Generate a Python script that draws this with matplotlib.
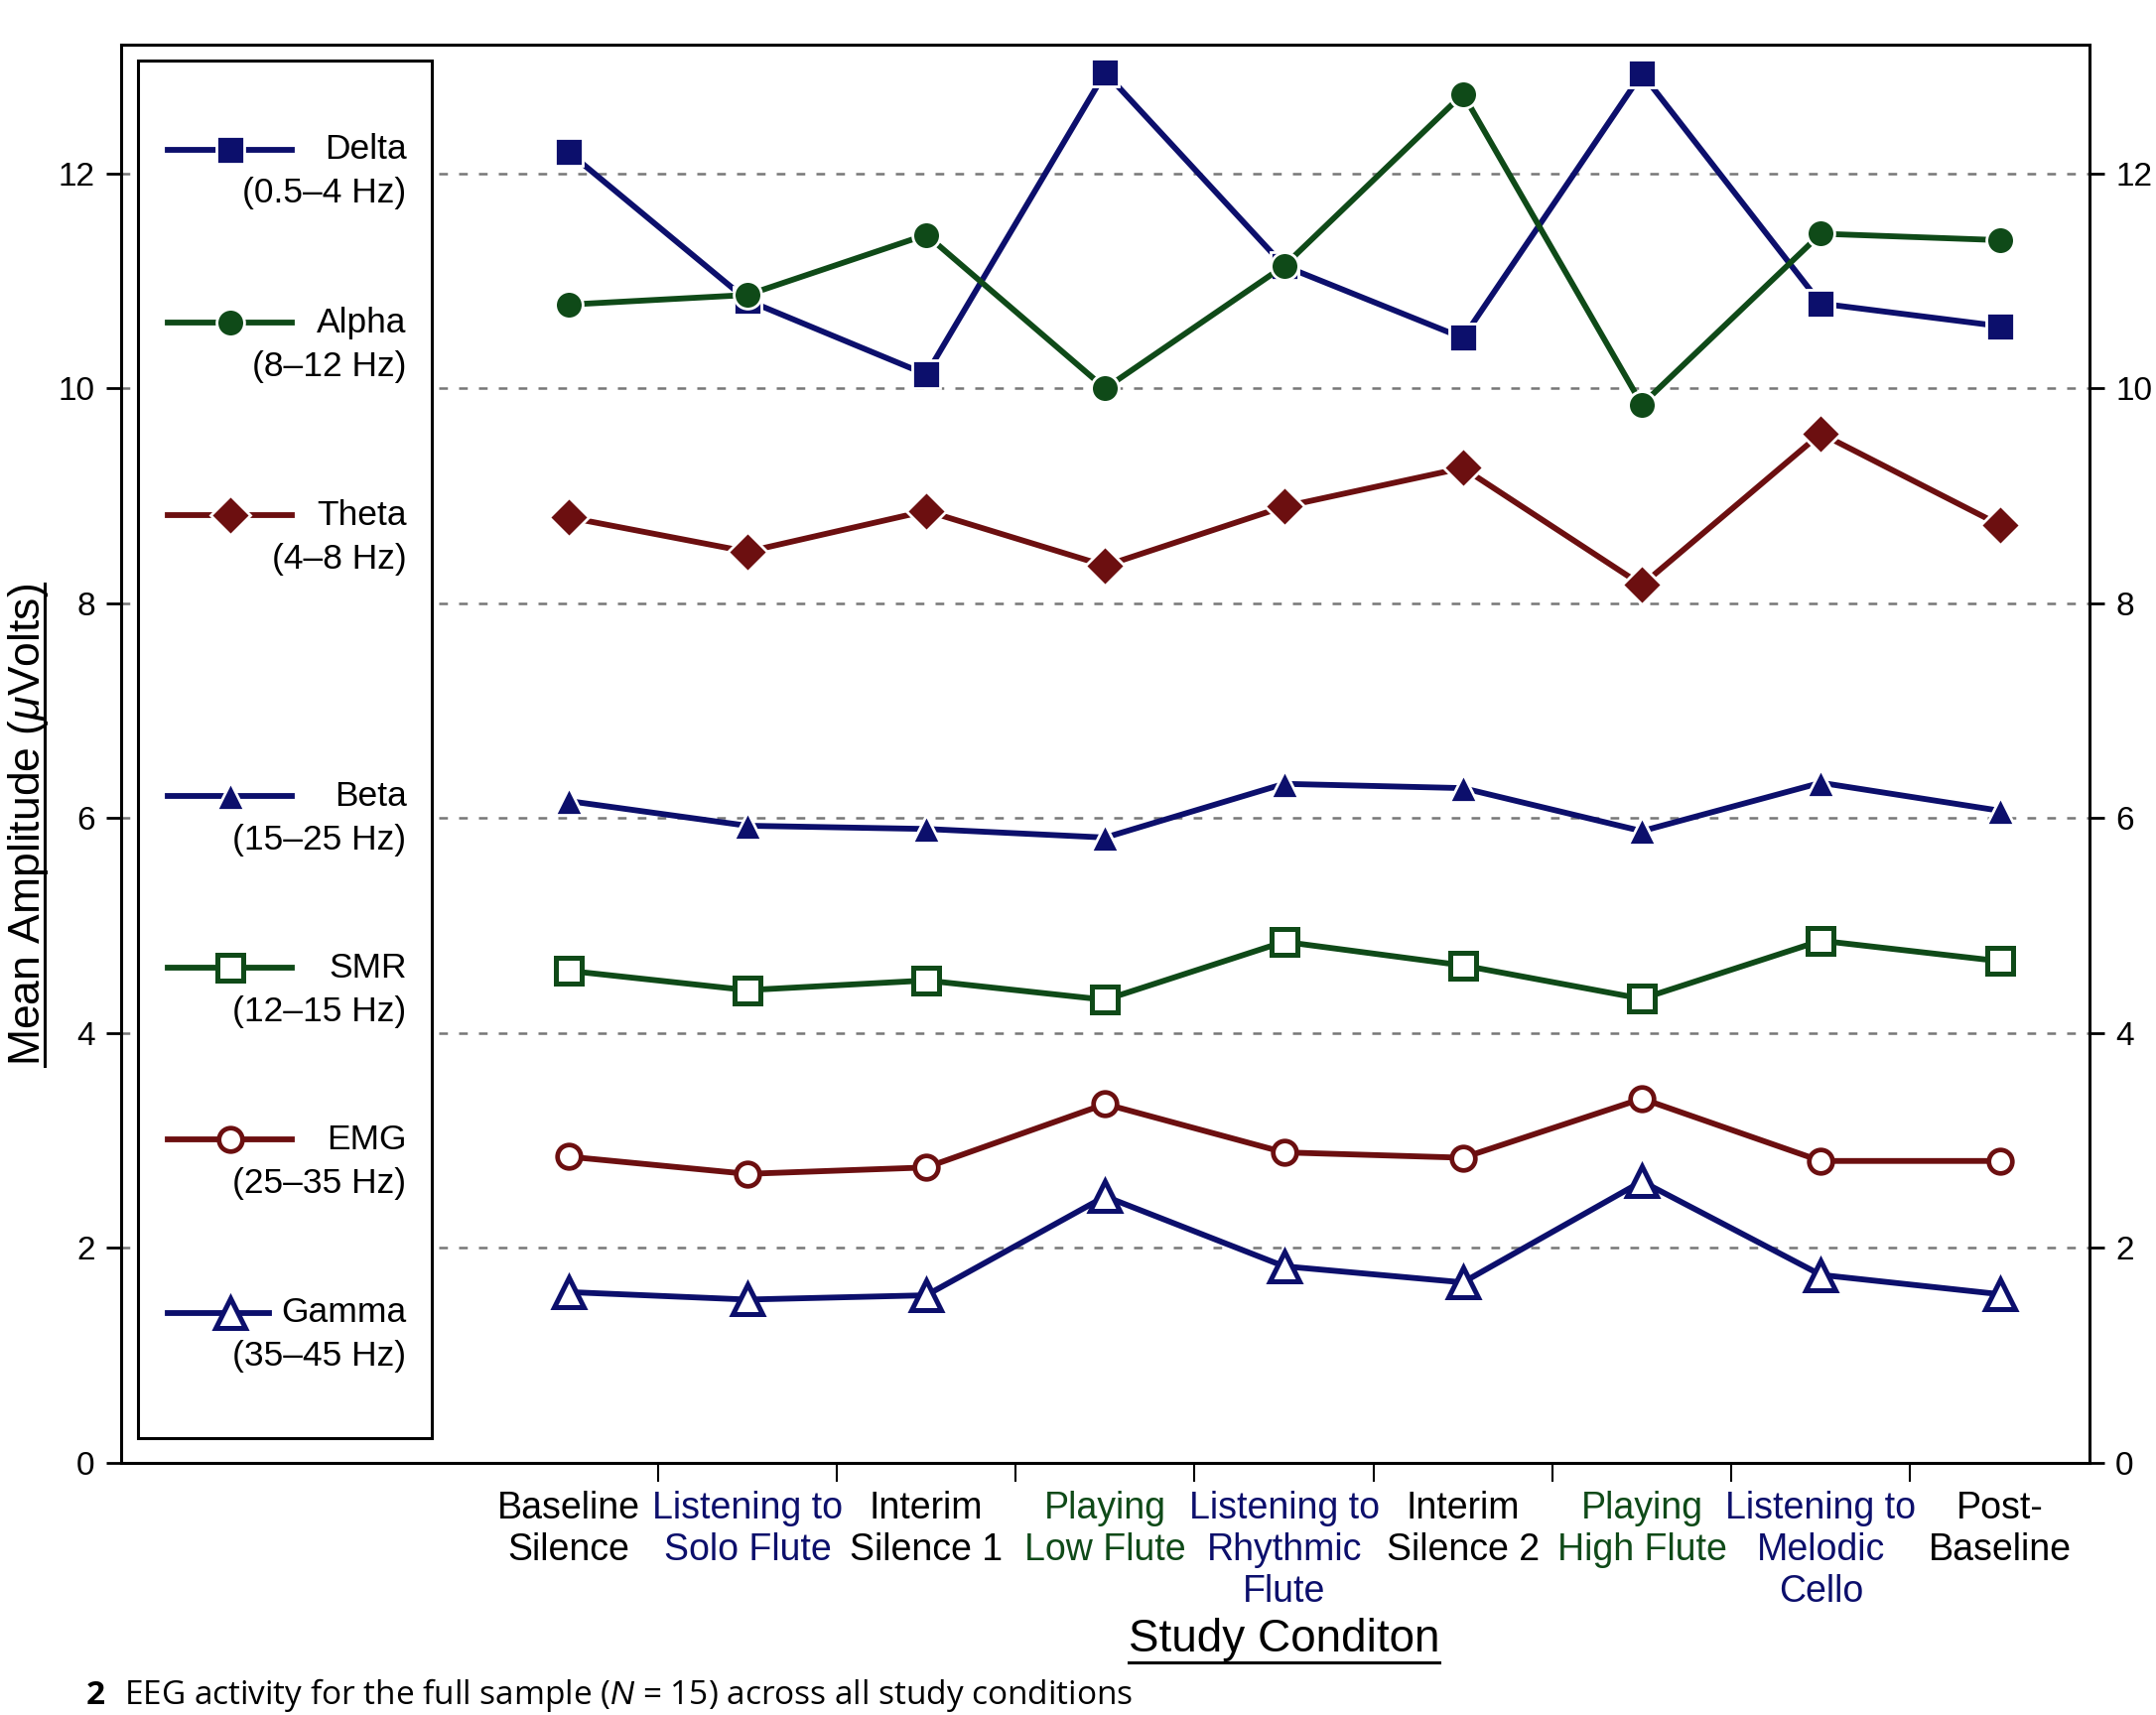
import numpy as np
import matplotlib
matplotlib.use("Agg")
import matplotlib.pyplot as plt
from matplotlib.patches import Rectangle
from matplotlib.lines import Line2D
from matplotlib.transforms import blended_transform_factory

plt.rcParams['font.family'] = ['Liberation Sans', 'DejaVu Sans']
plt.rcParams['mathtext.fontset'] = 'custom'
plt.rcParams['mathtext.rm'] = 'Liberation Sans'
plt.rcParams['mathtext.it'] = 'Liberation Sans:italic'

NAVY = "#0c0f6c"
GREEN = "#0f4a18"
RED = "#6c0f10"

# ---- data ----
conditions = [
    "Baseline\nSilence", "Listening to\nSolo Flute", "Interim\nSilence 1",
    "Playing\nLow Flute", "Listening to\nRhythmic\nFlute", "Interim\nSilence 2",
    "Playing\nHigh Flute", "Listening to\nMelodic\nCello", "Post-\nBaseline",
]
condition_colors = ["black", NAVY, "black", GREEN, NAVY, "black", GREEN, NAVY, "black"]

delta = [12.20, 10.82, 10.13, 12.94, 11.14, 10.47, 12.93, 10.79, 10.58]
alpha = [10.78, 10.87, 11.43, 10.00, 11.14, 12.74, 9.85, 11.44, 11.38]
theta = [8.80, 8.48, 8.86, 8.35, 8.90, 9.26, 8.17, 9.58, 8.73]
beta = [6.16, 5.93, 5.90, 5.82, 6.32, 6.28, 5.88, 6.33, 6.07]
smr = [4.58, 4.40, 4.49, 4.31, 4.85, 4.63, 4.32, 4.86, 4.67]
emg = [2.85, 2.69, 2.75, 3.34, 2.89, 2.84, 3.39, 2.81, 2.81]
gamma = [1.59, 1.52, 1.56, 2.48, 1.83, 1.68, 2.62, 1.75, 1.57]

band_names = ["Delta", "Alpha", "Theta", "Beta", "SMR", "EMG", "Gamma"]
band_ranges = ["(0.5\u20134 Hz)", "(8\u201312 Hz)", "(4\u20138 Hz)", "(15\u201325 Hz)",
               "(12\u201315 Hz)", "(25\u201335 Hz)", "(35\u201345 Hz)"]
band_values = [delta, alpha, theta, beta, smr, emg, gamma]

# marker styles per band
STYLES = [
    dict(color=NAVY, marker="s", ms=20, mfc=NAVY, mec="white", mew=2.0),
    dict(color=GREEN, marker="o", ms=20, mfc=GREEN, mec="white", mew=2.0),
    dict(color=RED, marker="D", ms=20, mfc=RED, mec="white", mew=2.0),
    dict(color=NAVY, marker="^", ms=20, mfc=NAVY, mec="white", mew=2.0),
    dict(color=GREEN, marker="s", ms=18.5, mfc="white", mec=GREEN, mew=3.6),
    dict(color=RED, marker="o", ms=17, mfc="white", mec=RED, mew=3.4),
    dict(color=NAVY, marker="^", ms=22, mfc="white", mec=NAVY, mew=3.6),
]

fig = plt.figure(figsize=(21.72, 17.28), dpi=100)
ax = fig.add_axes([0.0562, 0.147, 0.9128, 0.827])

x = np.arange(len(conditions))
for vals, st in zip(band_values, STYLES):
    ax.plot(x, vals, lw=4.2, zorder=4, clip_on=False, **st)

ax.set_xlim(-2.5, 8.5)
ax.set_ylim(0, 13.2)

ax.set_yticks([0, 2, 4, 6, 8, 10, 12])
ax.yaxis.grid(True, color="#777777", lw=1.8, ls=(0, (3.5, 4.5)))
ax.set_axisbelow(True)
ax.tick_params(axis="y", which="major", direction="out", length=11, width=2,
               labelsize=24, pad=8, right=True, labelright=True)

ax.set_xticks(x)
ax.set_xticklabels(conditions, fontsize=27, linespacing=1.22)
ax.set_xticks(x[:-1] + 0.5, minor=True)
ax.tick_params(axis="x", which="major", length=0, pad=20)
ax.tick_params(axis="x", which="minor", direction="out", length=14, width=1.5)
for lab, c in zip(ax.get_xticklabels(), condition_colors):
    lab.set_color(c)

for s in ax.spines.values():
    s.set_linewidth(2.2)

# ---- legend box drawn by hand ----
ax.add_patch(Rectangle((0.0084, 0.0174), 0.1496, 0.9716, transform=ax.transAxes,
                       fc="white", ec="black", lw=2.2, zorder=3))
legend_y = [0.926, 0.804, 0.668, 0.470, 0.349, 0.228, 0.106]
for i, (name, rng, st) in enumerate(zip(band_names, band_ranges, STYLES)):
    y = legend_y[i]
    x1 = 0.075 if name == "Gamma" else 0.0866
    ax.add_line(Line2D([0.0237, 0.0552, x1], [y, y, y], transform=ax.transAxes,
                       lw=4.2, markevery=[1], zorder=5, **st))
    ax.text(0.145, y, name, transform=ax.transAxes, ha="right", va="center",
            fontsize=25.5, zorder=6)
    ax.text(0.145, y - 0.031, rng, transform=ax.transAxes, ha="right", va="center",
            fontsize=25.5, zorder=6)

# ---- axis titles (underlined) ----
trans = blended_transform_factory(ax.transData, fig.transFigure)
xl = ax.text(4, 0.037, "Study Conditon", transform=trans, ha="center",
             va="baseline", fontsize=33)
yl = fig.text(0.0185, 0.519, r"Mean Amplitude ($\mu$Volts)", rotation=90,
              rotation_mode="anchor", ha="center", va="baseline", fontsize=32)

# caption at the lower edge
fig.text(0.040, 0.0065, "2", fontsize=24, fontweight="bold", family="Open Sans",
         va="baseline")
fig.text(0.0575, 0.0065, "EEG activity for the full sample ($N$ = 15) across all study conditions",
         fontsize=24, family="Open Sans", va="baseline")

fig.canvas.draw()
r = fig.canvas.get_renderer()
inv = fig.transFigure.inverted()
bb = xl.get_window_extent(r).transformed(inv)
fig.add_artist(Line2D([bb.x0, bb.x1], [0.0305, 0.0305], color="black", lw=2.2))
bb = yl.get_window_extent(r).transformed(inv)
fig.add_artist(Line2D([0.0205, 0.0205], [bb.y0, bb.y1], color="black", lw=2.2))

fig.savefig("out.png", dpi=100)
